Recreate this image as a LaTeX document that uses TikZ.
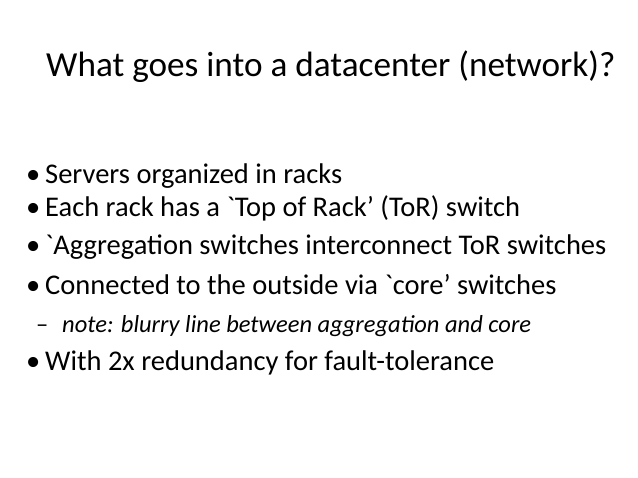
\documentclass[tikz,border=0pt]{standalone}
\usepackage{fontspec}
\setmainfont{Carlito}
\begin{document}
\begin{tikzpicture}[x=1pt,y=-1pt,
  txt/.style={anchor=base west,inner sep=0pt,font=\fontsize{28.5}{32}\selectfont},
  sub/.style={anchor=base west,inner sep=0pt,font=\fontsize{24.5}{28}\selectfont\itshape}]
\useasboundingbox[fill=white] (0,0) rectangle (638,478);
\node[anchor=base west,inner sep=0pt,font=\fontsize{35.2}{40}\selectfont] (title) at (46,77) {What goes into a datacenter (network)?};
\node[txt] (b1) at (26,184) {•};
\node[txt] (t1) at (45,184) {Servers organized in racks};
\node[txt] (b2) at (26,217) {•};
\node[txt] (t2) at (45,217) {Each rack has a \textasciigrave Top of Rack’ (ToR) switch};
\node[txt] (b3) at (26,255) {•};
\node[txt] (t3) at (45,255) {\textasciigrave Aggregation switches interconnect ToR switches};
\node[txt] (b4) at (26,295) {•};
\node[txt] (t4) at (45,295) {Connected to the outside via \textasciigrave core’ switches};
\node[sub] (d5) at (36,333) {\upshape –};
\node[sub] (t5) at (62,333) {note: blurry line between aggregation and core};
\node[txt] (b6) at (26,371) {•};
\node[txt] (t6) at (45,371) {With 2x redundancy for fault-tolerance};
\end{tikzpicture}
\end{document}
